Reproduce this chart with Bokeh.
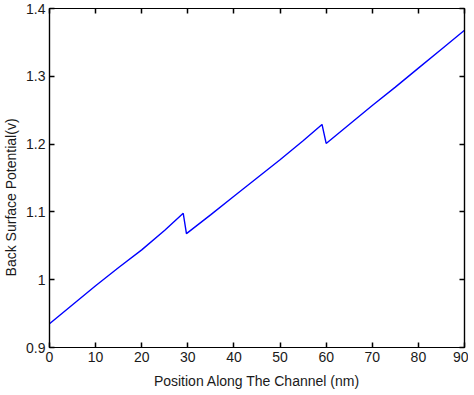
from bokeh.plotting import figure
from bokeh.models import LinearAxis, FixedTicker, Range1d, ColumnDataSource
from bokeh.embed import file_html
from bokeh.resources import INLINE

# Data
position_nm = [0, 5, 10, 15, 20, 25, 29, 29.7, 35, 40, 45, 50, 55, 59.1, 60, 65, 70, 75, 80, 85, 90]
potential_v = [0.935, 0.963, 0.991, 1.018, 1.044, 1.073, 1.098, 1.068, 1.096, 1.123, 1.150, 1.177, 1.205, 1.229,
               1.201, 1.229, 1.257, 1.284, 1.312, 1.340, 1.368]
x_ticks = [0, 10, 20, 30, 40, 50, 60, 70, 80, 90]
y_ticks = [0.9, 1.0, 1.1, 1.2, 1.3, 1.4]
y_tick_labels = {0.9: "0.9", 1.0: "1", 1.1: "1.1", 1.2: "1.2", 1.3: "1.3", 1.4: "1.4"}
x_title = "Position Along The Channel (nm)"
y_title = "Back Surface Potential(v)"

FONT = "Liberation Sans"

src = ColumnDataSource(data=dict(x=position_nm, y=potential_v))

p = figure(frame_width=415, frame_height=339, output_backend="svg", toolbar_location=None,
           x_range=Range1d(0, 90), y_range=Range1d(0.9, 1.4),
           min_border_left=49, min_border_top=8, min_border_right=4, min_border_bottom=37)
p.grid.visible = False
p.outline_line_color = "black"
p.outline_line_width = 1.2

p.line("x", "y", source=src, line_color="#0000ff", line_width=1.4)

def style(ax):
    ax.axis_line_color = "black"
    ax.axis_line_width = 1.2
    ax.major_tick_in = 5
    ax.major_tick_out = 0
    ax.minor_tick_line_color = None
    ax.major_tick_line_color = "black"
    ax.major_tick_line_width = 1.5
    ax.major_label_text_font = FONT
    ax.major_label_text_font_size = "14px"
    ax.major_label_text_color = "#1a1a1a"
    ax.axis_label_text_font = FONT
    ax.axis_label_text_font_size = "14px"
    ax.axis_label_text_font_style = "normal"
    ax.axis_label_text_color = "#1a1a1a"

xa = p.xaxis[0]
ya = p.yaxis[0]
xa.ticker = FixedTicker(ticks=x_ticks)
ya.ticker = FixedTicker(ticks=y_ticks)
ya.major_label_overrides = y_tick_labels
xa.axis_label = x_title
# trailing no-break spaces push the visible title a little below the frame centre, as in the reference
ya.axis_label = y_title + "\u00a0" * 10
style(xa)
style(ya)
xa.major_label_standoff = 4
ya.major_label_standoff = 4
xa.axis_label_standoff = 8
ya.axis_label_standoff = 4

top = LinearAxis(ticker=FixedTicker(ticks=x_ticks))
right = LinearAxis(ticker=FixedTicker(ticks=y_ticks))
for ax in (top, right):
    style(ax)
    ax.major_label_overrides = {t: "" for t in (x_ticks if ax is top else y_ticks)}
    ax.major_label_standoff = 0
p.add_layout(top, "above")
p.add_layout(right, "right")

open("out.html", "w").write(file_html(p, INLINE))
